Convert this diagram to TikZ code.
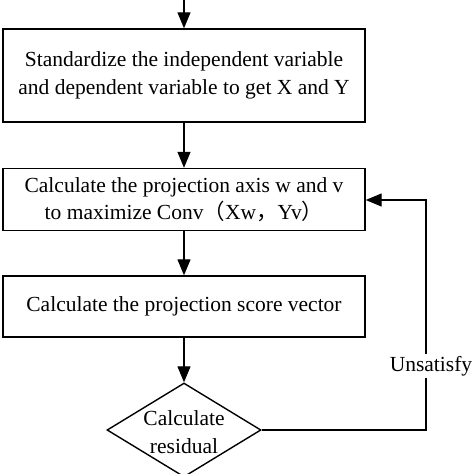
\documentclass[tikz,border=0pt]{standalone}
\usepackage{fontspec}
\setmainfont{Liberation Serif}
\newfontfamily\cjk{Noto Sans CJK SC}
\usetikzlibrary{arrows.meta,shapes.geometric}
\tikzset{
  stepbox/.style={draw,line width=1.4pt,minimum width=362pt,inner sep=0pt,align=center},
  decision/.style={draw,diamond,line width=1.4pt,minimum width=154pt,minimum height=94pt,inner sep=0pt},
  flow/.style={line width=1.3pt,-{Triangle[length=16pt,width=13pt]}},
  txt/.style={font=\fontsize{21.5}{27.5}\selectfont}
}
\begin{document}
\begin{tikzpicture}[x=1pt,y=1pt]
      \useasboundingbox (0,0) rectangle (474,-474);
      \clip (0,0) rectangle (474,-474);
      \coordinate (top) at (184,0);
      \node[stepbox,txt,minimum height=93pt] (std) at (184,-75.5)
        {Standardize the independent variable\\and dependent variable to get X and Y};
      \node[stepbox,txt,minimum height=62pt] (axis) at (184,-199.5)
        {Calculate the projection axis w and v\\to maximize Conv{\cjk（}Xw{\cjk，}Yv{\cjk）}};
      \node[stepbox,txt,minimum height=61pt] (score) at (184,-306.5)
        {Calculate the projection score vector};
      \node[decision] (res) at (184,-430) {};
      \node[txt,align=center,inner sep=0pt] (restxt) at (184,-432) {Calculate\\residual};
      \coordinate (c1) at (426,-430);
      \coordinate (c2) at (426,-200);
      \begin{scope}[flow]
        \draw (top) to (std);
        \draw (std) to (axis);
        \draw (axis) to (score);
        \draw (score) to (res);
        \draw (res.east) -- (c1) -- (c2) -- (axis.east |- c2);
      \end{scope}
      \node[txt,fill=white,inner sep=2pt] (unsat) at (431,-366) {Unsatisfy};
    \end{tikzpicture}
\end{document}
